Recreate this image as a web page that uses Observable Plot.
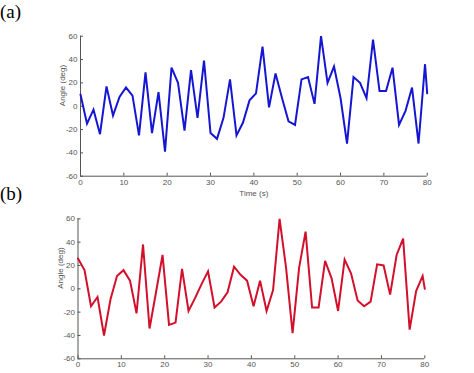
<!DOCTYPE html>
<html><head><meta charset="utf-8">
<script src="https://cdn.jsdelivr.net/npm/d3@7"></script>
<script src="https://cdn.jsdelivr.net/npm/@observablehq/plot@0.6"></script>
<style>
body{margin:0;background:#fff;}
#wrap{position:relative;width:474px;height:373px;overflow:hidden;background:#fff;}
.panel{position:absolute;left:0;}
.lab{position:absolute;left:0;font-family:"Liberation Serif","Times New Roman",serif;font-size:19px;color:#000;line-height:1;}
</style></head>
<body><div id="wrap"></div>
<script>
// time stamps (s)
const timeS = [0,1.5,3,4.5,6,7.5,9,10.5,12,13.5,15,16.5,18,19.5,21,22.5,24,25.5,27,28.5,30,31.5,33,34.5,36,37.5,39,40.5,42,43.5,45,46.5,48,49.5,51,52.5,54,55.5,57,58.5,60,61.5,63,64.5,66,67.5,69,70.5,72,73.5,75,76.5,78,79.5,80];
// panel (a) angle (deg)
const angleA = [10,-15,-3,-24,17,-8,8,16,9,-25,29,-23,12,-39,33,20,-21,31,-10,39,-23,-28,-10,23,-25,-14,5,11,51,-1,28,7,-13,-16,23,25,2,60,20,34,7,-32,25,20,7,57,13,13,33,-16,-4,16,-32,36,11];
// panel (b) angle (deg)
const angleB = [26,16,-15,-7,-40,-9,11,16,7,-21,38,-34,-3,29,-31,-29,17,-19,-8,4,15,-16,-11,-3,19,12,7,-15,7,-19,-1,60,18,-38,18,49,-16,-16,24,9,-19,25,13,-10,-15,-11,21,20,-5,29,43,-35,-2,11,0];
const xTicks = [0,10,20,30,40,50,60,70,80];
const yTicks = [-60,-40,-20,0,20,40,60];
const panelLabels = ["(a)","(b)"];
const yLabel = "Angle (deg)";
const xLabel = "Time (s)";

const dataA = timeS.map((t,i)=>({t, v: angleA[i]}));
const dataB = timeS.map((t,i)=>({t, v: angleB[i]}));

const axisColor = "#555";
function panel(data, color, opts){
  const marks = [
    Plot.ruleX([0], {stroke: axisColor, strokeWidth: 1}),
    Plot.ruleY([-60], {stroke: axisColor, strokeWidth: 1}),
    Plot.axisX({ticks: xTicks, tickSize: -3, tickPadding: 6, tickFormat: d => String(d), label: null, stroke: axisColor}),
    Plot.axisY({ticks: yTicks, tickSize: -3, tickPadding: 6, tickFormat: d => String(d), label: null, stroke: axisColor}),
    Plot.line(data, {x: "t", y: "v", stroke: color, strokeWidth: 2, strokeLinejoin: "miter", strokeMiterlimit: 4}),
    Plot.text([yLabel], {text: d => d, frameAnchor: "left", rotate: -90, dx: -18, fill: axisColor, fontSize: 8})
  ];
  if (opts.xlab) marks.push(Plot.text([xLabel], {text: d => d, frameAnchor: "bottom", dy: 20, fill: axisColor, fontSize: 8}));
  return Plot.plot({
    width: 474, height: opts.height,
    marginTop: opts.mt, marginBottom: opts.mb, marginLeft: opts.ml, marginRight: opts.mr,
    x: {domain: [0, 80]},
    y: {domain: [-60, 60]},
    style: {fontFamily: '"Liberation Sans", Arial, sans-serif', fontSize: "8px", color: axisColor, background: "white"},
    marks
  });
}

const wrap = document.getElementById("wrap");
const p1 = panel(dataA, "#1616d2", {height: 210, mt: 35.7, mb: 34.3, ml: 80, mr: 47.3, xlab: true});
p1.classList.add("panel"); p1.style.top = "0px";
const p2 = panel(dataB, "#d2102c", {height: 183, mt: 28.3, mb: 14.7, ml: 77.5, mr: 49.7, xlab: false});
p2.classList.add("panel"); p2.style.top = "190px";
wrap.appendChild(p2);
wrap.appendChild(p1);
p1.style.background = "transparent";
p2.style.background = "transparent";

const la = document.createElement("div"); la.className = "lab"; la.textContent = panelLabels[0]; la.style.top = "2px";
const lb = document.createElement("div"); lb.className = "lab"; lb.textContent = panelLabels[1]; lb.style.top = "184px";
wrap.appendChild(la); wrap.appendChild(lb);
</script>
</body></html>
